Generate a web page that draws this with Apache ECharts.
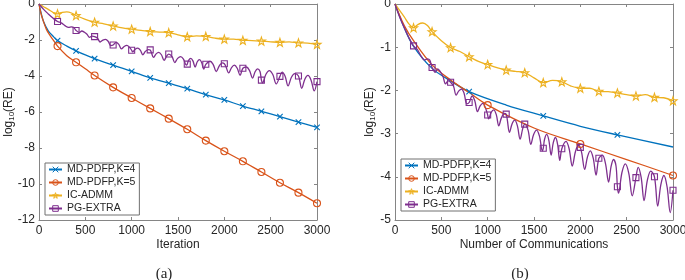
<!DOCTYPE html>
<html>
<head>
<meta charset="utf-8">
<script src="https://cdn.jsdelivr.net/npm/echarts@6/dist/echarts.min.js"></script>
<style>
  html, body { margin: 0; padding: 0; background: #fff; }
  #chart { width: 685px; height: 280px; }
</style>
</head>
<body>
<div id="chart"></div>
<script>
var seriesNames = ['MD-PDFP,K=4', 'MD-PDFP,K=5', 'IC-ADMM', 'PG-EXTRA'];

// (a) log10(RE) against iteration
var iterK4 = [[0, 0], [25, -0.55], [50, -0.98], [100, -1.49], [150, -1.78], [200, -2.03], [300, -2.34], [400, -2.6],
    [500, -2.83], [600, -3.03], [800, -3.4], [1000, -3.74], [1200, -4.1], [1400, -4.4], [1600, -4.7], [1800, -5.04],
    [2000, -5.33], [2200, -5.67], [2400, -5.96], [2600, -6.26], [2800, -6.56], [3000, -6.85]];
var iterK5 = [[0, 0], [20, -0.5], [40, -0.85], [80, -1.41], [120, -1.76], [160, -2.05], [200, -2.34], [300, -2.87],
    [400, -3.24], [500, -3.6], [600, -3.97], [800, -4.63], [1000, -5.22], [1200, -5.8], [1400, -6.37], [1600, -6.96],
    [1800, -7.59], [2000, -8.18], [2200, -8.74], [2400, -9.33], [2600, -9.93], [2800, -10.48], [3000, -11.07]];

// (b) log10(RE) against number of communications
var commK4 = [[0, 0], [100, -0.55], [200, -0.98], [400, -1.49], [600, -1.78], [800, -2.03], [1200, -2.34],
    [1600, -2.59], [2000, -2.83], [2400, -3.03], [3000, -3.31]];
var commK5 = [[0, 0], [100, -0.5], [200, -0.85], [400, -1.41], [600, -1.76], [800, -2.05], [1000, -2.34],
    [1500, -2.87], [2000, -3.24], [2500, -3.6], [3000, -3.97]];

// one communication per iteration -> same curve in both panels
var icAdmm = [[0, 0], [50, -0.15], [100, -0.3], [150, -0.46], [200, -0.55], [250, -0.47], [300, -0.44], [350, -0.5],
    [400, -0.64], [500, -0.85], [600, -1.01], [700, -1.1], [800, -1.22], [900, -1.33], [1000, -1.4], [1100, -1.47],
    [1200, -1.53], [1300, -1.56], [1400, -1.59], [1500, -1.71], [1600, -1.82], [1700, -1.77], [1800, -1.8],
    [1900, -1.9], [2000, -1.95], [2100, -1.95], [2200, -2.02], [2300, -2.03], [2400, -2.06], [2500, -2.1],
    [2600, -2.13], [2700, -2.1], [2800, -2.16], [2900, -2.17], [3000, -2.24]];
var pgExtra = [[0, 0], [50, -0.3], [100, -0.55], [150, -0.78], [200, -0.97], [240, -1.05], [280, -1.2], [320, -1.3],
    [350, -1.27], [375, -1.3], [400, -1.47], [435, -1.58], [462, -1.5], [490, -1.57], [518, -1.68], [545, -1.85],
    [574, -1.78], [600, -1.81], [631, -1.9], [660, -2.11], [689, -2.01], [718, -1.97], [746, -2.07], [775, -2.31],
    [800, -2.28], [832, -2.13], [861, -2.24], [890, -2.49], [919, -2.36], [948, -2.3], [976, -2.4], [1000, -2.57],
    [1010, -2.66], [1038, -2.51], [1065, -2.45], [1093, -2.56], [1120, -2.82], [1149, -2.63], [1180, -2.53],
    [1200, -2.55], [1212, -2.68], [1235, -2.97], [1264, -2.77], [1292, -2.69], [1321, -2.82], [1350, -3.13],
    [1379, -2.88], [1400, -2.78], [1436, -2.92], [1465, -3.25], [1496, -3.02], [1528, -2.92], [1559, -3.06],
    [1590, -3.4], [1600, -3.34], [1614, -3.13], [1638, -3.02], [1661, -3.16], [1685, -3.5], [1708, -3.21],
    [1732, -3.09], [1755, -3.25], [1778, -3.62], [1800, -3.35], [1846, -3.18], [1879, -3.35], [1913, -3.75],
    [1947, -3.42], [1980, -3.27], [2000, -3.32], [2016, -3.46], [2047, -3.83], [2078, -3.53], [2108, -3.4],
    [2139, -3.57], [2170, -3.96], [2200, -3.57], [2238, -3.5], [2271, -3.69], [2305, -4.12], [2332, -3.76],
    [2358, -3.6], [2385, -3.75], [2400, -4.23], [2412, -4.38], [2449, -3.9], [2486, -3.7], [2523, -3.92],
    [2560, -4.44], [2600, -4.02], [2624, -3.78], [2656, -4.01], [2688, -4.55], [2724, -4.07], [2760, -3.87],
    [2800, -4.0], [2835, -4.68], [2869, -4.18], [2902, -3.97], [2936, -4.23], [2970, -4.83], [3000, -4.31]];

// marker spacing on the x axis of each panel
var markStepA = [200, 200, 200, 200];
var markStepB = [800, 1000, 200, 200];

var colors = ['#0072BD', '#D95319', '#EDB120', '#7E2F8E'];
var crossPath = 'path://M0,0L10,10M0,10L10,0';
var starPath = 'path://M5,0L6.18,3.45L9.76,3.45L6.9,5.6L7.94,9.05L5,6.95L2.06,9.05L3.1,5.6L0.24,3.45L3.82,3.45Z';
var symbols = [crossPath, 'circle', starPath, 'rect'];
var symbolSizes = [5.5, 7, 8, 6];
var font = '"Liberation Sans", Arial, sans-serif';
var axisColor = '#858585';
var textColor = '#262626';

function lineData(points, step) {
    return points.map(function (p) {
        if (p[0] > 0 && p[0] % step === 0) {
            return { value: p };
        }
        return { value: p, symbol: 'none' };
    });
}

function makeSeries(i, points, step, panel) {
    return {
        name: seriesNames[i],
        type: 'line',
        xAxisIndex: panel * 2,
        yAxisIndex: panel * 2,
        data: lineData(points, step),
        smooth: 0.35,
        symbol: symbols[i],
        symbolSize: symbolSizes[i],
        lineStyle: { color: colors[i], width: 1.3 },
        itemStyle: { color: 'rgba(0,0,0,0)', borderColor: colors[i], borderWidth: 1.1 },
        emphasis: { disabled: true },
        silent: true
    };
}

function plainNumber(v) {
    return String(v);
}

function xAxisFor(panel, top, name) {
    return {
        type: 'value',
        gridIndex: panel,
        position: top ? 'top' : 'bottom',
        min: 0, max: 3000, interval: 500,
        axisLine: { show: true, onZero: false, lineStyle: { color: axisColor, width: 1 } },
        axisTick: { show: true, inside: true, length: 3, lineStyle: { color: axisColor } },
        axisLabel: { show: !top, color: textColor, fontSize: 12, margin: 5, fontFamily: font, formatter: plainNumber },
        splitLine: { show: false },
        name: top ? '' : name,
        nameLocation: 'middle',
        nameGap: 19,
        nameMoveOverlap: false,
        nameTextStyle: { color: textColor, fontSize: 12, fontFamily: font }
    };
}

function yAxisFor(panel, right, min, step, gap) {
    return {
        type: 'value',
        gridIndex: panel,
        position: right ? 'right' : 'left',
        min: min, max: 0, interval: step,
        axisLine: { show: true, onZero: false, lineStyle: { color: axisColor, width: 1 } },
        axisTick: { show: true, inside: true, length: 3, lineStyle: { color: axisColor } },
        axisLabel: { show: !right, color: textColor, fontSize: 12, margin: 4, fontFamily: font, formatter: plainNumber },
        splitLine: { show: false },
        name: right ? '' : 'log{s|10}(RE)',
        nameLocation: 'middle',
        nameGap: gap,
        nameMoveOverlap: false,
        nameTextStyle: {
            color: textColor, fontSize: 12, fontFamily: font,
            rich: { s: { fontSize: 8, fontFamily: font, color: textColor, padding: [6, 0, 0, 0] } }
        }
    };
}

function legendFor(left, top) {
    return {
        data: seriesNames.map(function (n, i) {
            return { name: n, itemStyle: { color: 'rgba(0,0,0,0)', borderColor: colors[i], borderWidth: 1 } };
        }),
        orient: 'vertical',
        left: left, top: top,
        itemWidth: 13, itemHeight: 7, itemGap: 2,
        padding: [1, 4, 1, 3],
        backgroundColor: '#fff',
        borderColor: '#707070', borderWidth: 1, borderRadius: 0,
        selectedMode: false,
        textStyle: { color: textColor, fontSize: 10.5, lineHeight: 10.5, fontFamily: font }
    };
}

var series = [];
[iterK4, iterK5, icAdmm, pgExtra].forEach(function (pts, i) {
    series.push(makeSeries(i, pts, markStepA[i], 0));
});
[commK4, commK5, icAdmm, pgExtra].forEach(function (pts, i) {
    series.push(makeSeries(i, pts, markStepB[i], 1));
});

var chart = echarts.init(document.getElementById('chart'), null, { renderer: 'canvas' });
chart.setOption({
    animation: false,
    backgroundColor: '#fff',
    grid: [
        { left: 39, top: 4, width: 278, height: 216, outerBoundsMode: 'none' },
        { left: 395, top: 4, width: 278, height: 216, outerBoundsMode: 'none' }
    ],
    xAxis: [
        xAxisFor(0, false, 'Iteration'), xAxisFor(0, true, ''),
        xAxisFor(1, false, 'Number of Communications'), xAxisFor(1, true, '')
    ],
    yAxis: [
        yAxisFor(0, false, -12, 2, 23), yAxisFor(0, true, -12, 2, 0),
        yAxisFor(1, false, -5, 1, 18), yAxisFor(1, true, -5, 1, 0)
    ],
    legend: [legendFor(45, 163), legendFor(401, 159)],
    graphic: [
        { type: 'text', x: 164, y: 274, style: { text: '(a)', align: 'center', verticalAlign: 'middle', fontSize: 15, fontFamily: '"Liberation Serif", "DejaVu Serif", serif', fill: textColor } },
        { type: 'text', x: 520, y: 274, style: { text: '(b)', align: 'center', verticalAlign: 'middle', fontSize: 15, fontFamily: '"Liberation Serif", "DejaVu Serif", serif', fill: textColor } }
    ],
    series: series
});
</script>
</body>
</html>
